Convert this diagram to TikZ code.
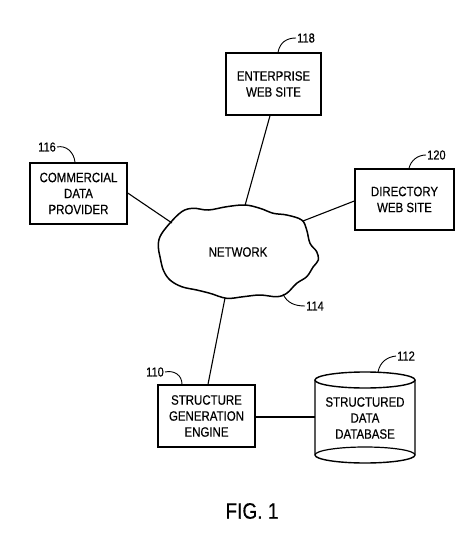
\documentclass[tikz,border=0pt]{standalone}
\usepackage{fontspec}
\setmainfont[FakeStretch=0.85,FakeBold=0.4]{Liberation Sans}
\usetikzlibrary{shapes.geometric}
\begin{document}
\begin{tikzpicture}[x=1pt,y=-1pt,
  box/.style={draw,line width=1.4pt,align=center,inner sep=0pt,font=\fontsize{13.5}{16}\selectfont},
  conn/.style={line width=1.1pt},
  lead/.style={line width=0.9pt},
  reflabel/.style={font=\fontsize{13}{15}\selectfont,inner sep=1pt}]
\useasboundingbox (0,0) rectangle (474,554);
% boxes
\node[box,minimum width=95pt,minimum height=62pt] (ent) at (273.5,84) {ENTERPRISE\\WEB SITE};
\node[box,minimum width=97pt,minimum height=61pt] (com) at (78.5,193.5) {COMMERCIAL\\DATA\\PROVIDER};
\node[box,minimum width=99pt,minimum height=61pt] (dir) at (404.5,199.5) {DIRECTORY\\WEB SITE};
\node[box,minimum width=97pt,minimum height=62pt] (sge) at (206.5,416) {STRUCTURE\\GENERATION\\ENGINE};
% database cylinder
\draw[line width=1.4pt] (365,380) ellipse [x radius=50pt,y radius=8pt];
\draw[line width=1.4pt] (315,380) -- (315,455) arc[start angle=180,end angle=360,x radius=50pt,y radius=8pt] -- (415,380);
\draw[line width=1.2pt] (315,455) arc[start angle=180,end angle=0,x radius=50pt,y radius=8pt];
\node[align=center,font=\fontsize{13.5}{16}\selectfont,inner sep=0pt] (db) at (365,418) {STRUCTURED\\DATA\\DATABASE};
\coordinate (dbleft) at (315,417);
% network cloud
\draw[line width=1.5pt] plot[smooth cycle,tension=0.6] coordinates {
(160,236.7) (168.3,225) (181.7,211.7) (193.3,208.3) (208.3,210) (226.7,206.7) (245,205) (260,208.3) (273.3,213.3) (286.7,215) (301.7,220) (306.7,230) (310,243.3) (316.7,251.7) (318.3,260) (313.3,266.7) (306.7,276.7) (296.7,283.3) (286.7,293.3) (276.7,296.7) (260,295) (243.3,296.7) (226.7,298.3) (210,293.3) (196.7,290) (181.7,286.7) (170,280) (163.3,270) (160,256.7) (158.3,246.7)};
\node[font=\fontsize{13.5}{16}\selectfont,inner sep=0pt] (net) at (238,252) {NETWORK};
\coordinate (nt) at (245,205.5);
\coordinate (nl) at (172,223);
\coordinate (nr) at (303,221);
\coordinate (nb) at (225,298);
\coordinate (nlead) at (283,294);
% connectors
\draw[conn] (ent.south -| 270,0) -- (nt);
\draw[conn] (com.east |- 0,193) -- (nl);
\draw[conn] (dir.west |- 0,201) -- (nr);
\draw[conn] (nb) -- (sge.north -| 208,0);
\draw[conn] (sge.east |- dbleft) -- (dbleft);
% reference labels
\node[reflabel,anchor=west] (l118) at (296,38) {118};
\draw[lead] (ent.north -| 278,0) .. controls (280,42) and (287,38) .. (l118.west);
\node[reflabel,anchor=east] (l116) at (57,147) {116};
\draw[lead] (l116.east) .. controls (66,145) and (74,152) .. (com.north -| 75,0);
\node[reflabel,anchor=west] (l120) at (426,155) {120};
\draw[lead] (dir.north -| 409,0) .. controls (411,160) and (418,155) .. (l120.west);
\node[reflabel,anchor=west] (l114) at (305,306) {114};
\draw[lead] (nlead) .. controls (287,303) and (295,306) .. (l114.west);
\node[reflabel,anchor=east] (l110) at (165,372) {110};
\draw[lead] (l110.east) .. controls (174,370) and (182,375) .. (sge.north -| 182,0);
\node[reflabel,anchor=west] (l112) at (396,356) {112};
\draw[lead] (378,372) .. controls (380,362) and (387,357) .. (l112.west);
% caption
\node[font=\fontsize{22.4}{26}\selectfont,inner sep=0pt] (fig) at (252,511) {FIG. 1};
\end{tikzpicture}
\end{document}
